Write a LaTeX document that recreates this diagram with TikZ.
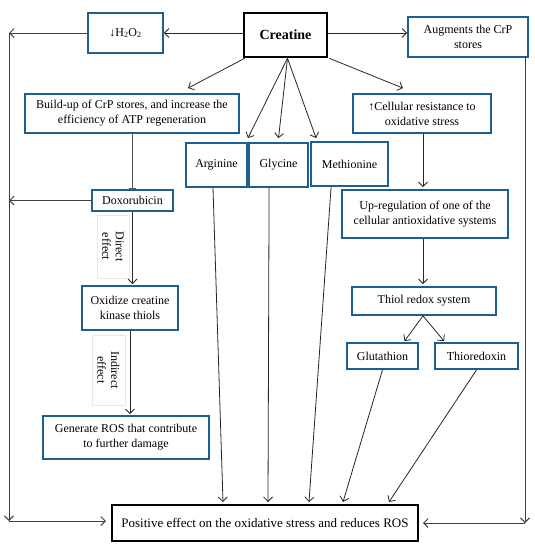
\documentclass[tikz,border=0pt]{standalone}
\usepackage{fontspec}
\setmainfont{Liberation Serif}
\usetikzlibrary{arrows.meta}
\definecolor{boxblue}{RGB}{31,94,145}
\tikzset{
  bluebox/.style={draw=boxblue,line width=1.8pt,align=center,inner sep=0pt,
    font=\fontsize{12}{15}\selectfont},
  sidelbl/.style={draw=gray!18,line width=0.8pt,align=center,inner sep=0pt,rotate=-90,
    font=\fontsize{12}{13.5}\selectfont},
  arr/.style={draw=black!85,line width=0.8pt,-{Straight Barb[length=4.5pt,width=9pt]}},
  rail/.style={arr,draw=black!75,line width=1pt}
}
\begin{document}
\begin{tikzpicture}[x=1pt,y=-1pt]
    \useasboundingbox (0,0) rectangle (535,550);
    % top row
    \node[draw,line width=2.6pt,minimum width=83pt,minimum height=44pt,inner sep=0pt,
      font=\fontsize{14}{15}\selectfont\bfseries] (crea) at (285.5,35) {Creatine};
    \node[bluebox,minimum width=75pt,minimum height=40pt] (hoo) at (125.5,33) {↓H\textsubscript{2}O\textsubscript{2}};
    \node[bluebox,minimum width=120pt,minimum height=40pt] (aug) at (468,37) {Augments the CrP\\stores};
    % left branch
    \node[bluebox,minimum width=214pt,minimum height=39pt] (build) at (132,113.5) {Build-up of CrP stores, and increase the\\efficiency of ATP regeneration};
    \node[bluebox,minimum width=81pt,minimum height=21pt] (dox) at (132.5,200.5) {Doxorubicin};
    \node[sidelbl,minimum width=63pt,minimum height=32pt] (direct) at (113,246.5) {Direct\\effect};
    \node[bluebox,minimum width=96pt,minimum height=44pt] (oxi) at (130,308) {Oxidize creatine\\kinase thiols};
    \node[sidelbl,minimum width=70pt,minimum height=33pt] (indirect) at (108.5,370) {Indirect\\effect};
    \node[bluebox,minimum width=166pt,minimum height=43pt] (gen) at (126,437.5) {Generate ROS that contribute\\to further damage};
    % amino acids
    \node[bluebox,minimum width=61pt,minimum height=44pt] (arg) at (216.5,165) {Arginine};
    \node[bluebox,minimum width=59pt,minimum height=44pt] (gly) at (278.5,165) {Glycine};
    \node[bluebox,minimum width=77pt,minimum height=44pt] (met) at (349.5,164) {Methionine};
    % right branch
    \node[bluebox,minimum width=138pt,minimum height=39pt] (cell) at (422,113.5) {↑Cellular resistance to\\oxidative stress};
    \node[bluebox,minimum width=166pt,minimum height=48pt] (upreg) at (425,214) {Up-regulation of one of the\\cellular antioxidative systems};
    \node[bluebox,minimum width=144pt,minimum height=28pt] (thiol) at (424,301) {Thiol redox system};
    \node[bluebox,minimum width=71pt,minimum height=26pt] (glu) at (382.5,356) {Glutathion};
    \node[bluebox,minimum width=83pt,minimum height=26pt] (thio) at (476.5,356) {Thioredoxin};
    % bottom
    \node[draw,line width=2pt,minimum width=306pt,minimum height=36pt,inner sep=0pt,
      font=\fontsize{13}{15}\selectfont] (pos) at (265,523) {Positive effect on the oxidative stress and reduces ROS};
    % side rails
    \coordinate (lt) at (9,33);
    \coordinate (lb) at (9,521);
    \coordinate (rt) at (525,57);
    \coordinate (rb) at (525,523);
    % connectors
    \draw[arr] (crea.west |- hoo.east) -- (hoo.east);
    \draw[arr] (crea.east |- hoo.east) -- (aug.west |- hoo.east);
    \draw[rail] (hoo.west) -- (lt);
    \draw[rail] (lt) -- (lb);
    \draw[rail,shorten >=5pt] (lb) -- (lb -| pos.west);
    \draw[rail] (dox.west) -- (dox.west -| lt);
    \draw[rail] (rt) -- (rb);
    \draw[rail,shorten >=4pt] (rb) -- (pos.east);
    \draw[arr] ([xshift=2pt]crea.south west) -- ([xshift=56pt,yshift=5pt]build.north);
    \draw[arr] ([xshift=2pt]crea.south) -- ([yshift=4pt]arg.north east);
    \draw[arr] ([xshift=2pt]crea.south) -- ([yshift=4pt]gly.north);
    \draw[arr] ([xshift=2pt]crea.south) -- ([xshift=6pt,yshift=3pt]met.north west);
    \draw[arr] ([xshift=1pt]crea.south east) -- ([xshift=-19pt,yshift=5pt]cell.north);
    \draw[draw=black!65,line width=0.9pt,-{Bar[width=7pt]}] (build.south) -- (build.south |- dox.north);
    \draw[arr,shorten >=1pt] (dox.south) -- (dox.south |- oxi.north);
    \draw[arr,shorten >=1pt] (oxi.south) -- (oxi.south |- gen.north);
    \draw[arr,shorten >=2pt] ([xshift=1pt]cell.south) -- ([xshift=1pt]cell.south |- upreg.north);
    \draw[arr,shorten >=2pt] ([xshift=-2pt]upreg.south) -- ([xshift=-2pt]upreg.south |- thiol.north);
    \draw[arr] ([xshift=-1pt]thiol.south) -- ([xshift=22pt,yshift=1pt]glu.north);
    \draw[arr] ([xshift=-1pt]thiol.south) -- ([xshift=10pt,yshift=1pt]thio.north west);
    \draw[arr] ([xshift=-3.5pt]arg.south) -- ([xshift=-42pt,yshift=2pt]pos.north);
    \draw[arr] ([xshift=21pt]gly.south west) -- ([xshift=3pt,yshift=2pt]pos.north);
    \draw[arr] ([xshift=21pt]met.south west) -- ([xshift=44pt,yshift=2pt]pos.north);
    \draw[arr] (glu.south) -- ([xshift=78pt,yshift=2pt]pos.north);
    \draw[arr] (thio.south) -- ([xshift=-30pt,yshift=2pt]pos.north east);
\end{tikzpicture}
\end{document}
